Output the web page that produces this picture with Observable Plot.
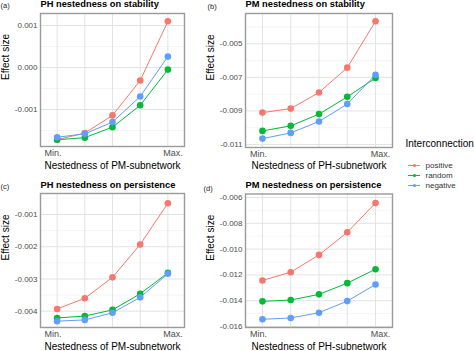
<!DOCTYPE html>
<html><head><meta charset="utf-8">
<script src="https://cdn.jsdelivr.net/npm/d3@7"></script>
<script src="https://cdn.jsdelivr.net/npm/@observablehq/plot@0.6"></script>
<style>
body{margin:0;background:#fff;font-family:"Liberation Sans",Arial,sans-serif;}
#wrap{position:relative;width:474px;height:351px;overflow:hidden;background:#fff;}
#wrap > svg{position:absolute;}
</style></head><body><div id="wrap"></div>
<script>
// ---- data ----
const steps = [1, 2, 3, 4, 5];
const xTickValues = [1, 5];
const xTickLabels = ["Min.", "Max."];
const series = ["positive", "random", "negative"];
const seriesColors = ["#F8766D", "#00BA38", "#619CFF"];
const legendTitle = "Interconnection";
const yTitle = "Effect size";

const aTitle = "PH nestedness on stability";
const aXTitle = "Nestedness of PM-subnetwork";
const aTicks = [-0.001, 0, 0.001];
const aPositive = [-0.00172, -0.00156, -0.00114, -0.00031, 0.00110];
const aRandom   = [-0.00172, -0.00167, -0.00142, -0.00090, -0.00005];
const aNegative = [-0.00166, -0.00158, -0.00130, -0.00069, 0.00026];

const bTitle = "PM nestedness on stability";
const bXTitle = "Nestedness of PH-subnetwork";
const bTicks = [-0.011, -0.009, -0.007, -0.005];
const bPositive = [-0.00910, -0.00886, -0.00790, -0.00642, -0.00366];
const bRandom   = [-0.01019, -0.00989, -0.00919, -0.00816, -0.00704];
const bNegative = [-0.01065, -0.01031, -0.00963, -0.00859, -0.00684];

const cTitle = "PH nestedness on persistence";
const cXTitle = "Nestedness of PM-subnetwork";
const cTicks = [-0.004, -0.003, -0.002, -0.001];
const cPositive = [-0.00393, -0.00360, -0.00295, -0.00193, -0.00065];
const cRandom   = [-0.00421, -0.00415, -0.00396, -0.00346, -0.00281];
const cNegative = [-0.00431, -0.00427, -0.00405, -0.00357, -0.00284];

const dTitle = "PM nestedness on persistence";
const dXTitle = "Nestedness of PH-subnetwork";
const dTicks = [-0.016, -0.014, -0.012, -0.010, -0.008, -0.006];
const dPositive = [-0.01243, -0.01179, -0.01045, -0.00870, -0.00643];
const dRandom   = [-0.01405, -0.01395, -0.01351, -0.01264, -0.01156];
const dNegative = [-0.01544, -0.01534, -0.01493, -0.01403, -0.01274];

// ---- layout ----
const FONT = "'Liberation Sans', Arial, Helvetica, sans-serif";
const panels = [
  {tag: "(a)", title: aTitle, xTitle: aXTitle, ticks: aTicks, values: [aPositive, aRandom, aNegative],
   domain: [-0.001881, 0.001286], left: 0, top: 0, width: 195, height: 177,
   mL: 40, mR: 11, mT: 13, mB: 31, xtDy: 19, tagDx: -40, tagDy: -8, titleDy: -9},
  {tag: "(b)", title: bTitle, xTitle: bXTitle, ticks: bTicks, values: [bPositive, bRandom, bNegative],
   domain: [-0.011179, -0.003194], left: 197, top: 0, width: 200, height: 177,
   mL: 48, mR: 5, mT: 13, mB: 30, xtDy: 18, tagDx: -38, tagDy: -7, titleDy: -9},
  {tag: "(c)", title: cTitle, xTitle: cXTitle, ticks: cTicks, values: [cPositive, cRandom, cNegative],
   domain: [-0.004506, -0.000348], left: 0, top: 177, width: 195, height: 174,
   mL: 40, mR: 11, mT: 16, mB: 24, xtDy: 19.5, tagDx: -40, tagDy: -7, titleDy: -8},
  {tag: "(d)", title: dTitle, xTitle: dXTitle, ticks: dTicks, values: [dPositive, dRandom, dNegative],
   domain: [-0.016078, -0.005729], left: 197, top: 177, width: 200, height: 174,
   mL: 48, mR: 5, mT: 16.5, mB: 24, xtDy: 19.5, tagDx: -42, tagDy: -5.5, titleDy: -8.5}
];

const wrap = document.getElementById("wrap");

function makePanel(p) {
  const rows = [];
  series.forEach((s, i) => p.values[i].forEach((v, j) => rows.push({step: steps[j], value: v, series: s})));
  const step = p.ticks[1] - p.ticks[0];
  const minors = [...p.ticks.map(t => t - step / 2), p.ticks[p.ticks.length - 1] + step / 2]
    .filter(v => v >= p.domain[0] && v <= p.domain[1]);
  const svg = Plot.plot({
    width: p.width, height: p.height,
    marginLeft: p.mL, marginRight: p.mR, marginTop: p.mT, marginBottom: p.mB,
    style: {fontFamily: FONT, background: "transparent", overflow: "visible"},
    x: {domain: [0.4, 5.6]},
    y: {domain: p.domain},
    color: {domain: series, range: seriesColors},
    marks: [
      Plot.gridY(minors, {stroke: "#efefef", strokeOpacity: 1, strokeWidth: 0.6}),
      Plot.gridY(p.ticks, {stroke: "#e3e3e3", strokeOpacity: 1, strokeWidth: 1}),
      Plot.gridX(steps, {stroke: "#e3e3e3", strokeOpacity: 1, strokeWidth: 1}),
      Plot.frame({stroke: "#9a9a9a", strokeWidth: 1.4}),
      Plot.line(rows, {x: "step", y: "value", z: "series", stroke: "series", strokeWidth: 1}),
      Plot.dot(rows, {x: "step", y: "value", fill: "series", r: 3.3}),
      Plot.axisY(p.ticks, {tickSize: 0, tickPadding: 3, tickFormat: d => d.toFixed(3),
        fontSize: 8, color: "#4d4d4d", label: null}),
      Plot.axisX([xTickValues[0]], {tickSize: 0, tickPadding: 3, tickFormat: () => xTickLabels[0],
        dx: -4, fontSize: 9, color: "#4d4d4d", label: null}),
      Plot.axisX([xTickValues[1]], {tickSize: 0, tickPadding: 3, tickFormat: () => xTickLabels[1],
        dx: 5, fontSize: 9, color: "#4d4d4d", label: null}),
      Plot.text([p.xTitle], {text: d => d, frameAnchor: "bottom", lineAnchor: "middle", dy: p.xtDy, fontSize: 10, fill: "#000"}),
      Plot.text([yTitle], {text: d => d, frameAnchor: "left", lineAnchor: "middle", rotate: -90, dx: -35, fontSize: 10, fill: "#000"}),
      Plot.text([p.title], {text: d => d, frameAnchor: "top-left", lineAnchor: "middle", textAnchor: "start", dy: p.titleDy,
        fontSize: 9.3, fontWeight: "bold", fill: "#000"}),
      Plot.text([p.tag], {text: d => d, frameAnchor: "top-left", lineAnchor: "middle", textAnchor: "start", dx: p.tagDx, dy: p.tagDy,
        fontSize: 7.5, fill: "#222"})
    ]
  });
  svg.style.left = p.left + "px";
  svg.style.top = p.top + "px";
  wrap.appendChild(svg);
}
panels.forEach(makePanel);

// legend
const legend = Plot.plot({
  width: 69, height: 65, margin: 0,
  style: {fontFamily: FONT, background: "transparent", overflow: "visible"},
  x: {domain: [0, 1], range: [3, 15], axis: null},
  y: {type: "point", domain: series, range: [24, 56], axis: null},
  color: {domain: series, range: seriesColors},
  marks: [
    Plot.text([legendTitle], {text: d => d, frameAnchor: "top-left", lineAnchor: "middle", textAnchor: "start", dy: 8, fontSize: 10, fill: "#000"}),
    Plot.ruleY(series, {y: d => d, x1: () => 0, x2: () => 1, stroke: d => d, strokeWidth: 1}),
    Plot.dot(series, {y: d => d, x: () => 0.5, fill: d => d, r: 1.6}),
    Plot.text(series, {y: d => d, x: () => 1, dx: 5, textAnchor: "start", text: d => d, fontSize: 8, fill: "#333"})
  ]
});
legend.style.left = "405px";
legend.style.top = "135px";
wrap.appendChild(legend);
</script></body></html>
